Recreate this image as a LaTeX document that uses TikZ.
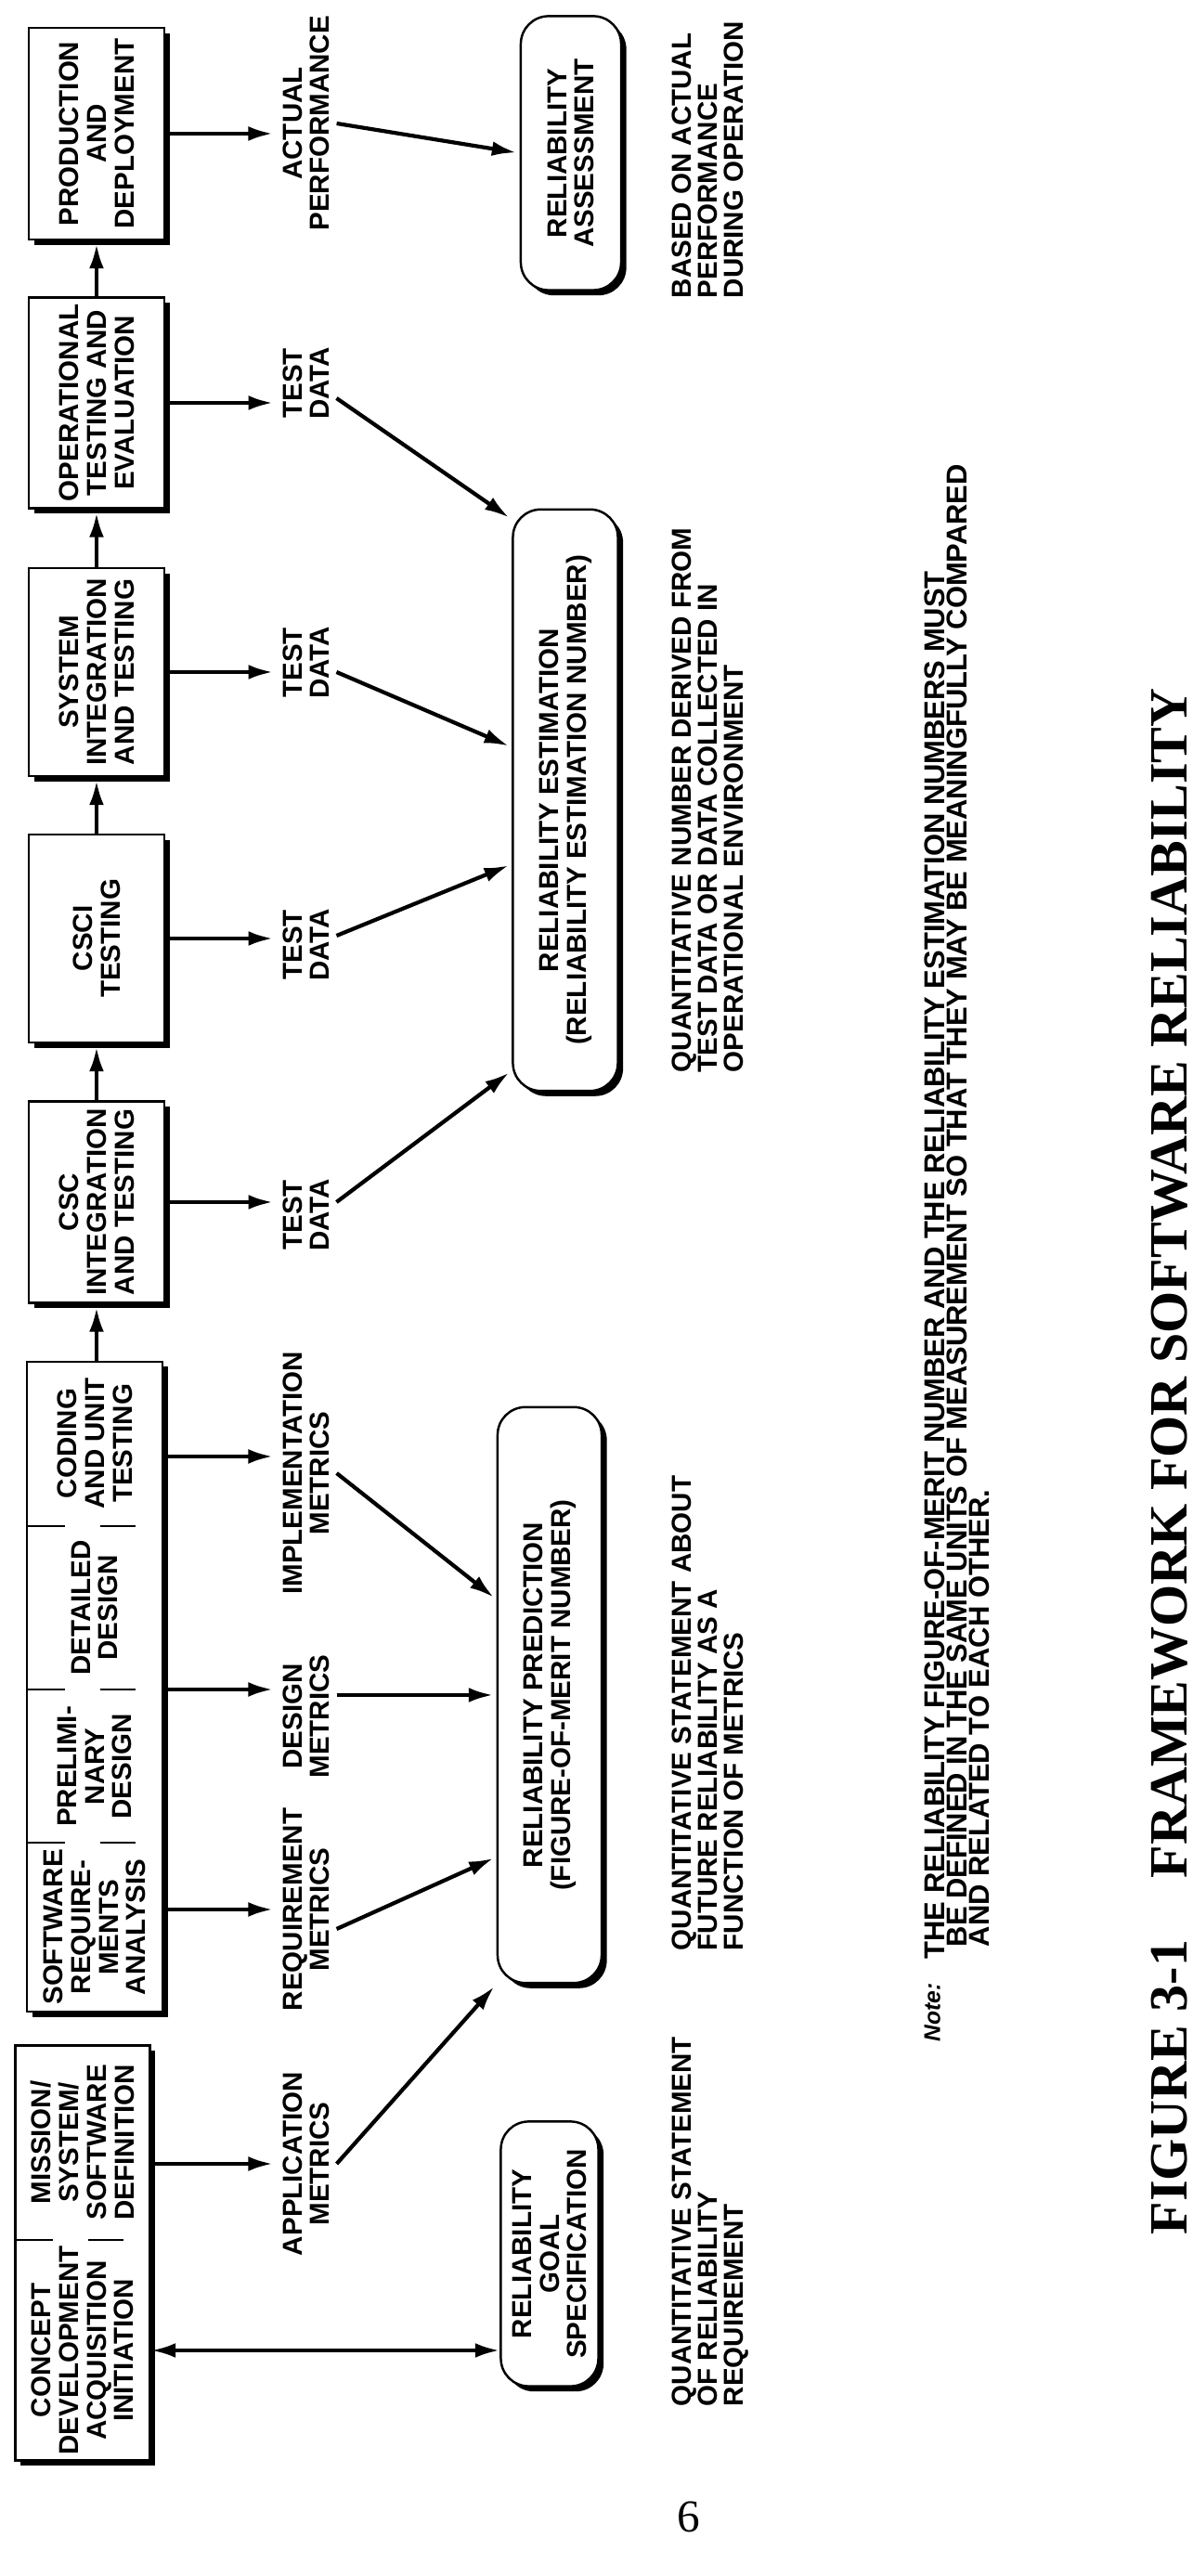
\documentclass[tikz,border=0pt]{standalone}
\usepackage{fontspec}
\setmainfont{Liberation Sans}
\newfontfamily\titlefont{Liberation Serif}
\usetikzlibrary{arrows.meta, calc, shadows}

\tikzset{
  phase/.style={draw, line width=0.7pt, fill=white, inner sep=0pt, minimum height=1.46cm,
    align=center, font=\bfseries\fontsize{8.4}{8.5}\selectfont,
    drop shadow={shadow xshift=1.6pt, shadow yshift=-1.6pt, fill=black, opacity=1}},
  result/.style={phase, rounded corners=0.3cm},
  sect/.style={align=center, font=\bfseries\fontsize{8.4}{8.5}\selectfont, inner sep=0pt},
  lbl/.style={align=center, font=\bfseries\fontsize{8.4}{8.2}\selectfont, inner sep=2pt},
  remark/.style={align=left, anchor=north west, font=\bfseries\fontsize{8.4}{8.0}\selectfont, inner sep=0pt},
  arr/.style={-{Latex[length=7.5pt,width=4.5pt]}, line width=1.2pt, shorten >=1pt},
  dbl/.style={{Latex[length=7.5pt,width=4.5pt]}-{Latex[length=7.5pt,width=4.5pt]}, line width=1.2pt},
  divider/.style={line width=0.7pt, dash pattern=on 0.41cm off 0.38cm on 0.38cm off 1cm}
}

\begin{document}
\begin{tikzpicture}[rotate=90, transform shape, x=0.01cm, y=0.01cm]

%% Parameters
%% rows of the framework, can be modified
\def\procV{1181}
\def\lblV{955}

\useasboundingbox (0,0) rectangle (2775,1285);

%% *** life cycle phases ***
    \node[phase, minimum width=4.47cm, minimum height=1.45cm] (defbox) at (348,1196) {};
    \node[sect] (concept) at (243,1196) {CONCEPT\\DEVELOPMENT\\ACQUISITION\\INITIATION};
    \node[sect] (mission) at (467,1196) {MISSION/\\SYSTEM/\\SOFTWARE\\DEFINITION};
    \draw[divider] (362,1269) -- (362,1124);

    \node[phase, minimum width=7cm] (devbox) at (958,1183) {};
    \node[sect] (swreq) at (699,1183) {SOFTWARE\\REQUIRE-\\MENTS\\ANALYSIS};
    \node[sect] (prelim) at (872,1183) {PRELIMI-\\NARY\\DESIGN};
    \node[sect] (detdes) at (1043,1183) {DETAILED\\DESIGN};
    \node[sect] (coding) at (1220,1183) {CODING\\AND UNIT\\TESTING};
    \coordinate (div2) at (955,1183);
    \foreach \u in {790,955,1131}
        \draw[divider] (\u,1256) -- (\u,1110);

    \node[phase, minimum width=2.17cm] (csc) at (1480,\procV) {CSC\\INTEGRATION\\AND TESTING};
    \node[phase, minimum width=2.24cm] (csci) at (1764,\procV) {CSCI\\TESTING};
    \node[phase, minimum width=2.24cm] (sysint) at (2051,\procV) {SYSTEM\\INTEGRATION\\AND TESTING};
    \node[phase, minimum width=2.27cm] (opte) at (2341,\procV) {OPERATIONAL\\TESTING AND\\EVALUATION};
    \node[phase, minimum width=2.28cm] (prod) at (2631,\procV) {PRODUCTION\\AND\\DEPLOYMENT};

    \draw[arr] (csc.west -| devbox.east) -- (csc.west);
    \draw[arr] (csc.east) -- (csci.west);
    \draw[arr] (csci.east) -- (sysint.west);
    \draw[arr] (sysint.east) -- (opte.west);
    \draw[arr] (opte.east) -- (prod.west);

%% *** data coming out of each phase ***
    \node[lbl] (appm) at (444,\lblV) {APPLICATION\\METRICS};
    \node[lbl] (reqm) at (718,\lblV) {REQUIREMENT\\METRICS};
    \node[lbl] (desm) at (926,\lblV) {DESIGN\\METRICS};
    \node[lbl] (implm) at (1188,\lblV) {IMPLEMENTATION\\METRICS};
    \node[lbl] (td4) at (1466,\lblV) {TEST\\DATA};
    \node[lbl] (td3) at (1757,\lblV) {TEST\\DATA};
    \node[lbl] (td2) at (2061,\lblV) {TEST\\DATA};
    \node[lbl] (td1) at (2362,\lblV) {TEST\\DATA};
    \node[lbl] (actual) at (2642,\lblV) {ACTUAL\\PERFORMANCE};

    \draw[arr] (appm.north |- defbox.south) -- (appm.north);
    \draw[arr] (reqm.north |- devbox.south) -- (reqm.north);
    \draw[arr] (div2 |- devbox.south) -- (div2 |- desm.north);
    \draw[arr] ($(implm.north |- devbox.south)+(18,0)$) -- ($(implm.north)+(18,0)$);
    \draw[arr] (csc.south) -- (csc.south |- td4.north);
    \draw[arr] (csci.south) -- (csci.south |- td3.north);
    \draw[arr] (sysint.south) -- (sysint.south |- td2.north);
    \draw[arr] (opte.south) -- (opte.south |- td1.north);
    \draw[arr] (prod.south) -- (prod.south |- actual.north);

%% *** reliability numbers ***
    \node[result, minimum width=2.85cm, minimum height=1.05cm] (goal) at (347,693) {RELIABILITY\\GOAL\\SPECIFICATION};
    \node[result, minimum width=6.2cm, minimum height=1.12cm] (pred) at (949,693) {RELIABILITY PREDICTION\\(FIGURE-OF-MERIT NUMBER)};
    \node[result, minimum width=6.26cm, minimum height=1.13cm] (estim) at (1913,676) {RELIABILITY ESTIMATION\\(RELIABILITY ESTIMATION NUMBER)};
    \node[result, minimum width=2.95cm, minimum height=1.08cm] (assess) at (2610,670) {RELIABILITY\\ASSESSMENT};

    \draw[dbl] (concept |- defbox.south) -- (concept |- goal.north);

    \draw[arr] (appm.south) -- (pred.north west);
    \draw[arr] ($(reqm.south)+(-21,0)$) -- ($(pred.north west)+(137,0)$);
    \draw[arr] (desm.south -| pred.north) -- (pred.north);
    \draw[arr] (implm.south) -- ($(pred.north)+(103,0)$);

    \draw[arr] ($(td4.south)+(14,0)$) -- ($(estim.north west)+(23,0)$);
    \draw[arr] ($(td3.south)+(10,0)$) -- ($(estim.north)+(-69,0)$);
    \draw[arr] ($(td2.south)+(-10,0)$) -- ($(estim.north)+(57,0)$);
    \draw[arr] ($(td1.south)+(-16,0)$) -- ($(estim.north east)+(-12,0)$);

    \draw[arr] (actual.south) -- (assess.north);

%% *** remarks under each number ***
    \node[remark] (goalnote) at (182,562) {QUANTITATIVE STATEMENT\\OF RELIABILITY\\REQUIREMENT};
    \node[remark] (prednote) at (673,562) {QUANTITATIVE STATEMENT ABOUT\\FUTURE RELIABILITY AS A\\FUNCTION OF METRICS};
    \node[remark] (estimnote) at (1619,562) {QUANTITATIVE NUMBER DERIVED FROM\\TEST DATA OR DATA COLLECTED IN\\OPERATIONAL ENVIRONMENT};
    \node[remark] (assessnote) at (2453,562) {BASED ON ACTUAL\\PERFORMANCE\\DURING OPERATION};

    % note and caption
    \node[anchor=north east, inner sep=0pt, font=\bfseries\itshape\fontsize{7}{7}\selectfont] (notelbl) at (639,290) {Note:};
    \node[remark, font=\bfseries\fontsize{8.8}{6.9}\selectfont] (notebody) at (664,290)
        {THE RELIABILITY FIGURE-OF-MERIT NUMBER AND THE RELIABILITY ESTIMATION NUMBERS MUST\\
         \hspace*{0.13cm}BE DEFINED IN THE SAME UNITS OF MEASUREMENT SO THAT THEY MAY BE MEANINGFULLY COMPARED\\
         \hspace*{0.13cm}AND RELATED TO EACH OTHER.};

    \node[anchor=west, inner sep=0pt, font=\titlefont\bfseries\fontsize{16.5}{16.5}\selectfont] (title) at (367,25)
        {FIGURE 3-1\hspace{0.9em} FRAMEWORK FOR SOFTWARE RELIABILITY};

    \node[rotate=-90, inner sep=0pt, font=\titlefont\fontsize{14}{14}\selectfont] (pagenum) at (64,543) {6};

\end{tikzpicture}
\end{document}
